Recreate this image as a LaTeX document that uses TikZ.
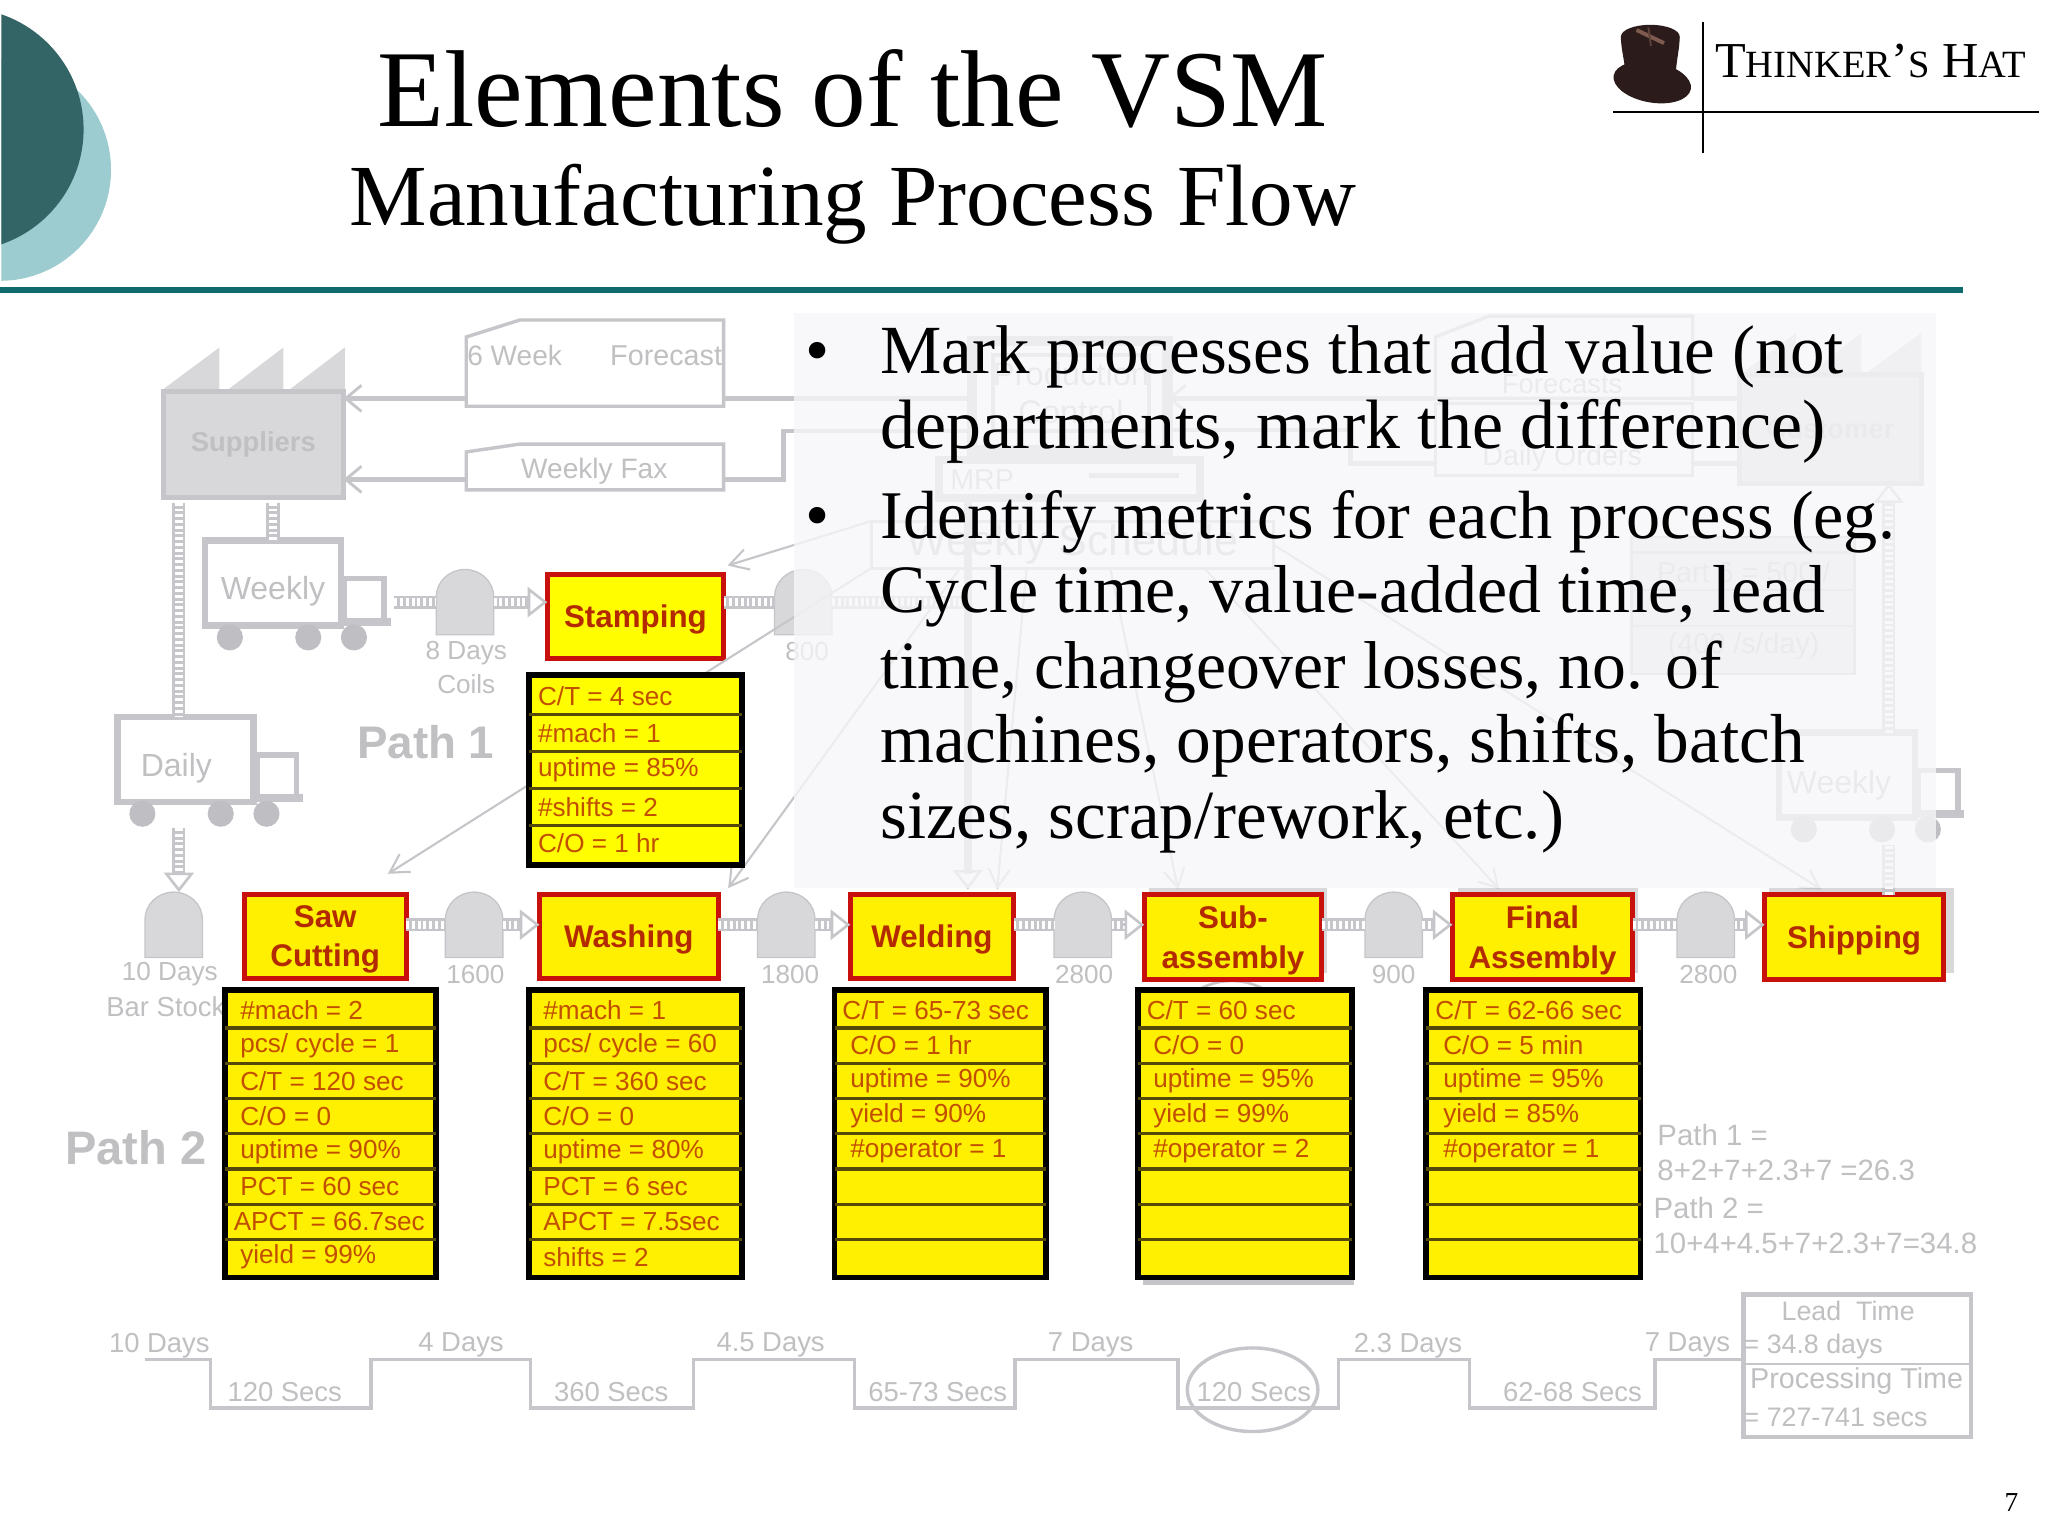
\documentclass[tikz,border=0pt]{standalone}
\usepackage{fontspec}
\setmainfont{Liberation Serif}
\setsansfont{Liberation Sans}
\usetikzlibrary{arrows.meta,calc}
\definecolor{darkteal}{HTML}{336466}
\definecolor{lightteal}{HTML}{9CCCCF}
\definecolor{ruleteal}{HTML}{0E6A6C}
\definecolor{gline}{HTML}{C6C6CA}
\definecolor{gfill}{HTML}{D8D8DA}
\definecolor{gtext}{HTML}{C0C0C3}
\definecolor{panelc}{HTML}{F7F7FA}
\definecolor{yellowa}{HTML}{FFFD00}
\definecolor{yellowb}{HTML}{FFEF00}
\definecolor{procred}{HTML}{C8100C}
\definecolor{proctext}{HTML}{B42A00}
\definecolor{datatext}{HTML}{C24E00}
\definecolor{divc}{HTML}{54480A}
\definecolor{hatdark}{HTML}{2B1C1B}
\definecolor{hatsheen}{HTML}{7E5B4E}
\newcommand\fs[1]{\fontsize{#1}{#1}\selectfont}
\tikzset{
  lbl/.style={inner sep=0,outer sep=0,text=gtext,font=\sffamily\fs{20}},
  seriftext/.style={inner sep=0,outer sep=0,anchor=base west,text=black},
  thinline/.style={draw=gline,line width=1.6pt},
  thinarrow/.style={thinline,-{Straight Barb[length=14pt,width=16pt,line width=1.6pt]}},
  flowline/.style={draw=gline,line width=3.4pt},
  flowarrow/.style={flowline,-{Straight Barb[length=12pt,width=20pt,line width=2.2pt]}},
  pushline/.style={draw=gline,line width=10pt,postaction={draw=white,line width=6pt,dash pattern=on 2.2pt off 2.2pt}},
  pushtip/.style={draw=gline,line width=2pt,-{Triangle[open,length=15pt,width=23pt]}},
  docbox/.style={draw=gline,line width=2.6pt,fill=white},
  procbox/.style={draw=procred,line width=3.6pt,inner sep=0,outer sep=0},
  proclabel/.style={inner sep=0,outer sep=0,align=center,text=proctext,font=\sffamily\bfseries\fs{24}},
  databoxs/.style={draw=black,line width=4.4pt,inner sep=0,outer sep=0},
  datarow/.style={inner sep=0,outer sep=0,anchor=west,text=datatext,font=\sffamily\fs{20}},
  datadiv/.style={draw=divc,line width=2.4pt},
  plainbox/.style={inner sep=0,outer sep=0,align=center},
}
% general box by corners: style,name,x0,y0,x1,y1,text
\newcommand\bx[7]{\node[#1,minimum width={(#5)-(#3)},minimum height={(#6)-(#4)}] (#2) at ({((#3)+(#5))/2},{((#4)+(#6))/2}) {#7};}
% process box with label: fill,name,x0,y0,x1,y1,text
\newcommand\proc[7]{%
  \bx{procbox,fill=#1}{#2}{#3}{#4}{#5}{#6}{}
  \node[proclabel] (#2lbl) at ([yshift=-2.5pt]#2.center) {#7};}
% tombstone inventory: name, cx, cy
\newcommand\invent[3]{%
  \bx{plainbox}{#1}{#2-22}{#3-25}{#2+22}{#3+25}{}
  \fill[gfill,draw=gline,line width=1pt] (#1.south west) -- ++(0,-29) arc[start angle=180,end angle=0,x radius=22pt,y radius=21pt] -- (#1.south east) -- cycle;}
% stripe with an open tip: from, to
\newcommand\pushto[2]{%
  \draw[pushline,shorten >=15pt] (#1) -- (#2);
  \draw[pushtip] ($(#2)!16pt!(#1)$) -- (#2);}
% truck: name,x,y,text,label x,label y
\newcommand\truck[6]{%
  \bx{plainbox,draw=gline,line width=5pt,fill=white}{#1}{#2}{#3}{#2+104}{#3+65}{}
  \node[lbl,font=\sffamily\fs{24.5}] (#1lbl) at (#5,#6) {#4};
  \draw[gline,line width=4pt] (#2+107,#3+62) -- (#2+107,#3+29) -- (#2+137,#3+29) -- (#2+137,#3+62);
  \draw[gline,line width=6pt] (#2+104,#3+62) -- (#2+142,#3+62);
  \foreach \wx in {19,79,114}{\fill[gline!90!gray] (#2+\wx,#3+74) circle[radius=10pt];}}
% data table: name,x0,y0,x1,y1,rows,fill,list
\newcommand\datatab[8]{%
  \bx{databoxs,fill=#7}{#1}{#2}{#3}{#4}{#5}{}
  \pgfmathsetmacro\rowh{((#5)-(#3)-4)/#6}
  \foreach \xx/\rowtxt [count=\ri] in {#8}{%
    \node[datarow] at (\xx,{#3+2+(\ri-.5)*\rowh}) {\rowtxt};
    \ifnum\ri<#6 \draw[datadiv] (#2,{#3+2+\ri*\rowh}) -- (#4,{#3+2+\ri*\rowh});\fi}}
\begin{document}
\begin{tikzpicture}[x=1pt,y=-1pt]
\useasboundingbox (0,0) rectangle (1568,1176);
\fill[white] (0,0) rectangle (1568,1176);

% corner ornament
\begin{scope}
\clip (1,0) rectangle (200,219);
\fill[lightteal] (0,130) circle[radius=85pt];
\fill[darkteal] (-29,99) circle[radius=93pt];
\end{scope}
\fill[ruleteal] (0,219.5) rectangle (1503,224);

% titles
\node[inner sep=0,anchor=base,font=\fs{83.7}] (title) at (653,97) {Elements of the VSM};
\node[inner sep=0,anchor=base,font=\fs{66.7}] (subtitle) at (653,173) {Manufacturing Process Flow};

% logo
\fill[hatdark,rotate around={-10:(1265,63)}] (1265,63) ellipse[x radius=30pt,y radius=15.5pt];
\fill[hatdark] (1241,28) .. controls (1241,40) and (1245,48) .. (1244,60) -- (1283,66) .. controls (1282,50) and (1286,40) .. (1286,28) -- cycle;
\fill[hatdark] (1263.5,28) ellipse[x radius=22.5pt,y radius=9pt];
\draw[hatsheen,line width=3pt] (1253,23) -- (1274,33);
\draw[hatsheen!60!hatdark,line width=1.5pt] (1262,21) -- (1264,35);
\draw[black,line width=1.3pt] (1304,17) -- (1304,117);
\draw[black,line width=1.3pt] (1235,85.5) -- (1561,85.5);
\node[inner sep=0,anchor=base west] (logo) at (1313,59) {\fs{38.5}T\fs{29.5}HINKER\fs{38.5}’\fs{29.5}S\fs{38.5} H\fs{29.5}AT};

% ---------- faded value-stream map ----------
% suppliers
\fill[gfill] (125,298) -- (168,266) -- (168,298) -- cycle;
\fill[gfill] (175,298) -- (217,266) -- (217,298) -- cycle;
\fill[gfill] (222,298) -- (264,266) -- (264,298) -- cycle;
\bx{plainbox,draw=gline,line width=4pt,fill=gfill,text=gtext,font=\sffamily\bfseries\fs{21}}{suppliers}{125}{300}{263}{381}{Suppliers}
% customer
\fill[gfill] (1332,287) -- (1375,255) -- (1375,287) -- cycle;
\fill[gfill] (1384,287) -- (1425,255) -- (1425,287) -- cycle;
\fill[gfill] (1427,287) -- (1471,255) -- (1471,287) -- cycle;
\bx{plainbox,draw=gline,line width=4pt,fill=gfill,text=gtext,font=\sffamily\bfseries\fs{21}}{customer}{1332}{287}{1471}{370}{Customer}
% production control, MRP, schedule
\bx{plainbox,draw=gline,line width=8pt}{prodctl}{744}{261}{894}{345}{}
\bx{plainbox,draw=gline,line width=3pt,text=gtext,font=\sffamily\fs{25}}{prodin}{762}{272}{878}{330}{Production\\[4pt]Control}
\bx{plainbox,draw=gline,line width=6pt}{mrp}{719}{352}{919}{381}{}
\node[lbl,font=\sffamily\fs{22}] (mrplbl) at (752,367) {MRP};
\draw[gline,line width=4pt] (834,364) -- (903,364);
\bx{plainbox,draw=gline,line width=2.4pt,text=gtext,font=\sffamily\fs{33}}{sched}{667}{399}{975}{435}{Weekly Schedule}
% pallet table
\bx{plainbox,draw=gline,line width=2pt,fill=gfill!70!white}{pallet}{1249}{411}{1420}{516}{}
\draw[gline,line width=1.6pt] (pallet.west |- 0,423) -- (pallet.east |- 0,423);
\draw[gline,line width=1.6pt] (pallet.west |- 0,452) -- (pallet.east |- 0,452);
\draw[gline,line width=1.6pt] (pallet.west |- 0,479) -- (pallet.east |- 0,479);
\node[lbl,font=\sffamily\fs{22}] (parta) at (1335,438) {Part 6 = 500 /};
\node[lbl,font=\sffamily\fs{22}] (partb) at (1335,495) {(400 /s/day)};

% documents
\path[docbox] (357,311) -- (357,258) -- (398,245) -- (554,245) -- (554,311) -- cycle;
\node[lbl,font=\sffamily\fs{21.5}] (wk6) at (394,272) {6 Week};
\node[lbl,font=\sffamily\fs{22}] (fcst) at (510,272) {Forecast};
\path[docbox] (357,375) -- (357,346) -- (398,340) -- (554,340) -- (554,375) -- cycle;
\node[lbl,font=\sffamily\fs{21.5}] (wkfax) at (455,361) {Weekly Fax};
\path[docbox] (1099,305) -- (1099,258) -- (1140,242) -- (1296,242) -- (1296,305) -- cycle;
\node[lbl,font=\sffamily\fs{21}] (fcsts) at (1196,294) {Forecasts};
\path[docbox] (1099,364) -- (1099,309) -- (1296,309) -- (1296,364) -- cycle;
\node[lbl,font=\sffamily\fs{22}] (dord) at (1196,351) {Daily Orders};

% information flow
\coordinate (wkfaxin) at (357,367);
\coordinate (wk6in) at (357,305);
\draw[flowarrow] (wk6in) -- (wk6in -| suppliers.east);
\draw[flowarrow] (wkfaxin) -- (wkfaxin -| suppliers.east);
\draw[flowline] (554,305) -- (prodctl.west |- 0,305);
\draw[flowline] (554,367) -- (600,367) -- (600,330) -- (prodctl.west |- 0,330);
\draw[flowarrow] (1099,305) -- (prodctl.east |- 0,305);
\draw[flowline] (1332,305) -- (1296,305);
\draw[flowline] (1332,355) -- (1296,355);
\draw[flowline] (1099,355) -- (1034,355) -- (1034,329) -- (prodctl.east |- 0,329);

% trucks, inventories
\truck{wktruck}{157}{414}{Weekly}{209}{453}
\truck{dailytruck}{90}{549}{Daily}{135}{588}
\truck{shiptruck}{1362}{561}{Weekly}{1408}{601}
\draw[pushline,shorten <=4pt] (suppliers.south -| 137,0) -- (dailytruck.north -| 137,0);
\draw[pushline,shorten <=4pt] (suppliers.south -| wktruck.north) -- (wktruck.north);

\invent{invcoil}{356}{461}
\invent{inv800}{615}{461}
\invent{invbar}{133}{708}
\invent{inv1600}{363}{708}
\invent{inv1800}{602}{708}
\invent{inv2800a}{829}{708}
\invent{inv900}{1067}{708}
\invent{inv2800b}{1306}{708}

\node[lbl] (t8d) at (357,500) {8 Days};
\node[lbl] (tcoil) at (357,524) {Coils};
\node[lbl] (t800) at (618,499) {800};
\node[lbl,font=\sffamily\bfseries\fs{35}] (path1) at (326,568) {Path 1};
\node[lbl] (t10d) at (130,746) {10 Days};
\node[lbl,font=\sffamily\fs{21}] (tbar) at (127,771) {Bar Stock};
\node[lbl] (t1600) at (364,746) {1600};
\node[lbl] (t1800) at (605,746) {1800};
\node[lbl] (t2800a) at (830,746) {2800};
\node[lbl] (t900) at (1067,746) {900};
\node[lbl] (t2800b) at (1308,746) {2800};
\node[lbl,font=\sffamily\bfseries\fs{36}] (path2) at (104,879) {Path 2};

% process boxes
\proc{yellowa}{stamping}{419}{440}{554}{504}{Stamping}
\proc{yellowb}{saw}{187}{685}{311}{749}{Saw\\[6pt]Cutting}
\proc{yellowb}{washing}{413}{685}{550}{749}{Washing}
\proc{yellowb}{welding}{651}{685}{776}{749}{Welding}
\fill[gfill] (880,680) rectangle (1016,745);
\fill[gfill] (1116,680) rectangle (1254,745);
\fill[gfill] (1354,680) rectangle (1496,745);
\draw[gline,line width=2pt] (943,800) ellipse[x radius=50pt,y radius=49pt];
\proc{yellowb}{subasm}{876}{685}{1012}{750}{Sub-\\[6pt]assembly}
\proc{yellowb}{final}{1112}{685}{1250}{750}{Final\\[6pt]Assembly}
\proc{yellowb}{shipping}{1351}{685}{1488}{750}{Shipping}

% material flow
\coordinate (wkout) at (302,461);
\draw[pushline] (wkout) -- (invcoil.west);
\pushto{invcoil.east}{invcoil.east -| stamping.west}
\draw[pushline] (invcoil.east -| stamping.east) -- (inv800.west);
\draw[pushline] (inv800.east) -- (inv800.east -| prodctl.west);
\coordinate (dailyout) at (137,634);
\pushto{dailyout}{invbar.north -| dailyout}
\draw[pushline] (inv1600.west -| saw.east) -- (inv1600.west);
\pushto{inv1600.east}{inv1600.east -| washing.west}
\draw[pushline] (inv1800.west -| washing.east) -- (inv1800.west);
\pushto{inv1800.east}{inv1800.east -| welding.west}
\draw[pushline] (inv2800a.west -| welding.east) -- (inv2800a.west);
\pushto{inv2800a.east}{inv2800a.east -| subasm.west}
\draw[pushline] (inv900.west -| subasm.east) -- (inv900.west);
\pushto{inv900.east}{inv900.east -| final.west}
\draw[pushline] (inv2800b.west -| final.east) -- (inv2800b.west);
\pushto{inv2800b.east}{inv2800b.east -| shipping.west}
\coordinate (upout) at (1446,561);
\pushto{upout}{customer.south -| upout}
\draw[pushline] (shipping.north -| upout) -- ([yshift=-86pt]shiptruck.north -| upout);

% schedule arrows
\draw[thinarrow] (sched.north west) -- ([shift={(3,-7)}]stamping.north east);
\draw[thinarrow] (sched.south west) -- ([shift={(48,-16)}]saw.north);
\draw[thinarrow] ([xshift=-86pt]sched.south) -- ([shift={(76,-5)}]washing.north);
\draw[thinarrow] ([xshift=-35pt]sched.south) -- ([shift={(50,-4)}]welding.north);
\draw[thinarrow] ([xshift=29pt]sched.south) -- ([shift={(-42,-4)}]subasm.north);
\draw[thinarrow] ([xshift=101pt]sched.south) -- ([shift={(-33,-4)}]final.north);
\draw[thinarrow] (sched.east) -- ([shift={(-25,-4)}]shipping.north);
\draw[draw=gline,line width=6pt,shorten >=16pt] (mrp.south -| 741,0) -- (welding.north -| 741,0);
\draw[pushtip] (741,665) -- (741,681);

% faded white sheet over the map
\fill[panelc,opacity=.78] (608,240) rectangle (1482,680);

% data tables
\datatab{dstamp}{405}{517}{568}{662}{5}{yellowa}{412/{C/T = 4 sec},412/{\#mach = 1},412/{uptime = 85\%},412/{\#shifts = 2},412/{C/O = 1 hr}}
\datatab{dsaw}{172}{758}{334}{978}{8}{yellowb}{184/{\#mach = 2},184/{pcs/ cycle = 1},184/{C/T = 120 sec},184/{C/O = 0},184/{uptime = 90\%},184/{PCT = 60 sec},179/{APCT = 66.7sec},184/{yield = 99\%}}
\datatab{dwash}{405}{758}{568}{978}{8}{yellowb}{416/{\#mach = 1},416/{pcs/ cycle = 60},416/{C/T = 360 sec},416/{C/O = 0},416/{uptime = 80\%},416/{PCT = 6 sec},416/{APCT = 7.5sec},416/{shifts = 2}}
\datatab{dweld}{639}{758}{801}{978}{8}{yellowb}{645/{C/T = 65-73 sec},651/{C/O = 1 hr},651/{uptime = 90\%},651/{yield = 90\%},651/{\#operator = 1},651/{},651/{},651/{}}
\fill[gline] (875,760) rectangle (1037,984);
\datatab{dsub}{871}{758}{1035}{978}{8}{yellowb}{878/{C/T = 60 sec},883/{C/O = 0},883/{uptime = 95\%},883/{yield = 99\%},883/{\#operator = 2},883/{},883/{},883/{}}
\datatab{dfinal}{1092}{758}{1256}{978}{8}{yellowb}{1099/{C/T = 62-66 sec},1105/{C/O = 5 min},1105/{uptime = 95\%},1105/{yield = 85\%},1105/{\#operator = 1},1105/{},1105/{},1105/{}}

% path totals
\node[lbl,anchor=west,font=\sffamily\fs{22.5}] (p1a) at (1269,869) {Path 1 =};
\node[lbl,anchor=west,font=\sffamily\fs{22.5}] (p1b) at (1269,896) {8+2+7+2.3+7 =26.3};
\node[lbl,anchor=west,font=\sffamily\fs{22.5}] (p2a) at (1266,925) {Path 2 =};
\node[lbl,anchor=west,font=\sffamily\fs{22.5}] (p2b) at (1266,952) {10+4+4.5+7+2.3+7=34.8};

% timeline
\bx{plainbox,draw=gline,line width=3.4pt}{leadbox}{1335}{991}{1509}{1100}{}
\draw[gline,line width=1.4pt] (leadbox.west |- 0,1044) -- (leadbox.east |- 0,1044);
\draw[gline,line width=2.6pt] (111,1041) -- (161,1041) -- (161,1078) -- (284,1078) -- (284,1041) -- (406,1041) -- (406,1078) -- (531,1078) -- (531,1041) -- (654,1041) -- (654,1078) -- (777,1078) -- (777,1041) -- (902,1041) -- (902,1078) -- (1025,1078) -- (1025,1041) -- (1125,1041) -- (1125,1078) -- (1267,1078) -- (1267,1041) -- (leadbox.west |- 0,1041);
\draw[gline,line width=2.6pt] (959,1064) ellipse[x radius=50pt,y radius=32pt];
\foreach \tx/\ty/\tl/\nm in {122/1030/10 Days/ta,218/1066/120 Secs/tb,353/1030/4 Days/tc,468/1066/360 Secs/td,590/1030/4.5 Days/te,718/1066/65-73 Secs/tf,835/1030/7 Days/tg,960/1066/120 Secs/th,1078/1030/2.3 Days/ti,1204/1066/62-68 Secs/tj,1292/1030/7 Days/tk}
  {\node[lbl,font=\sffamily\fs{21}] (\nm) at (\tx,\ty) {\tl};}
\begin{scope}
\clip (1335,985) rectangle (1511,1105);
\node[lbl,font=\sffamily\fs{20.5}] (lt1) at (1415,1004) {Lead\ \ Time};
\node[lbl,anchor=west,font=\sffamily\fs{20.5}] (lt2) at (1335,1031) {= 34.8 days};
\node[lbl,anchor=west,font=\sffamily\fs{22}] (lt3) at (1340,1057) {Processing Time};
\node[lbl,anchor=west,font=\sffamily\fs{20.5}] (lt4) at (1335,1085) {= 727-741 secs};
\end{scope}

\node[inner sep=0,font=\fs{21}] (pagenum) at (1540,1150) {7};

% bullets
\node[seriftext,font=\fs{52.8}] (b1) at (617,286) {•};
\node[seriftext,font=\fs{52.8}] (b2) at (617,412) {•};
\node[seriftext,font=\fs{52.8}] (l1) at (674,286) {Mark processes that add value (not};
\node[seriftext,font=\fs{53.5}] (l2) at (674,343) {departments, mark the difference)};
\node[seriftext,font=\fs{52.2}] (l3) at (674,412) {Identify metrics for each process (eg.};
\node[seriftext,font=\fs{51.9}] (l4) at (674,469) {Cycle time, value-added time, lead};
\node[seriftext,font=\fs{51.8}] (l5) at (674,527) {time, changeover losses, no. of};
\node[seriftext,font=\fs{53.1}] (l6) at (674,584) {machines, operators, shifts, batch};
\node[seriftext,font=\fs{52.8}] (l7) at (674,642) {sizes, scrap/rework, etc.)};
\end{tikzpicture}
\end{document}
